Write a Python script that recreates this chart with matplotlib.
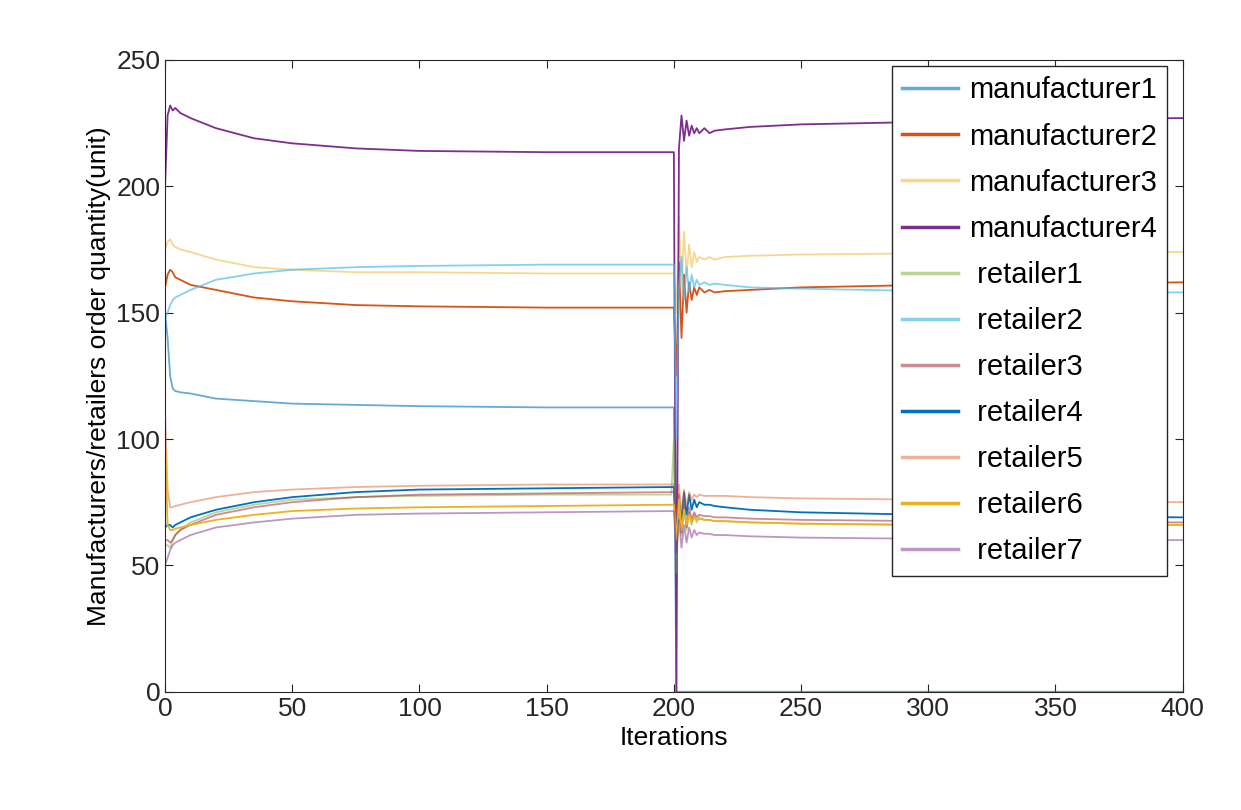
import numpy as np
import matplotlib.pyplot as plt

# iteration grid shared by all series
iters = [0, 1, 2, 3, 4, 6, 10, 20, 35, 50, 75, 100, 150, 199, 200,
         201, 202, 203, 204, 205, 206, 207, 208, 209, 210, 212, 214, 216,
         220, 230, 250, 300, 350, 400]

manufacturer1 = [150, 140, 125, 120, 119, 118.5, 118, 116, 115, 114, 113.5, 113, 112.5, 112.5, 112.5,
                 0, 0, 0, 0, 0, 0, 0, 0, 0, 0, 0, 0, 0,
                 0, 0, 0, 0, 0, 0]
manufacturer2 = [160, 165, 167, 166, 164, 163, 161, 159, 156, 154.5, 153, 152.5, 152, 152, 152,
                 125, 170, 140, 165, 150, 162, 155, 160, 157, 160, 158, 159, 158,
                 158.5, 159, 160, 161, 161.5, 162]
manufacturer3 = [175, 178, 179, 177, 176, 175, 174, 171, 168, 167, 166, 166, 165.5, 165.5, 165.5,
                 150, 188, 160, 182, 165, 177, 168, 174, 170, 172, 171, 172, 171,
                 172, 172.5, 173, 173.5, 174, 174]
manufacturer4 = [200, 228, 232, 230, 231, 229, 227, 223, 219, 217, 215, 214, 213.5, 213.5, 213.5,
                 0, 215, 228, 218, 226, 220, 224, 221, 223, 221, 223, 221, 222,
                 222.5, 223.5, 224.5, 225.5, 226.5, 227]
retailer1 = [58, 58, 57, 60, 62, 64, 67, 71, 74, 76, 77, 77.5, 78, 78, 100,
             47, 75, 62, 74, 64, 71, 66, 70, 67, 69, 68, 68, 67.5,
             67.5, 67, 66.5, 66, 66, 66]
retailer2 = [148, 150, 153, 155, 156, 157, 159, 163, 165.5, 167, 168, 168.5, 169, 169, 169,
             100, 160, 172, 155, 168, 158, 165, 160, 163, 161, 162, 161, 161.5,
             161, 160, 159.5, 158.5, 158, 158]
retailer3 = [60, 60, 59, 60, 62, 64, 66, 70, 73, 75, 77, 78, 78.5, 79, 79,
             60, 78, 63, 75, 65, 73, 68, 71, 69, 70, 69.5, 69.5, 69,
             69, 68.5, 68, 67.5, 67, 67]
retailer4 = [65, 66, 66, 65, 66, 67, 69, 72, 75, 77, 79, 80, 80.5, 81, 81,
             62, 75, 68, 79, 70, 78, 72, 76, 73, 75, 74, 74, 73.5,
             73, 72, 71, 70, 69.5, 69]
retailer5 = [110, 80, 73, 73, 73.5, 74, 75, 77, 79, 80, 81, 81.5, 82, 82, 82,
             65, 82, 70, 80, 73, 79, 76, 78, 77, 78, 77.5, 77.5, 77.5,
             77.5, 77, 76.5, 76, 75.5, 75]
retailer6 = [100, 66, 64, 64, 64.5, 65, 66, 68, 70, 71.5, 72.5, 73, 73.5, 74, 74,
             60, 76, 64, 72, 66, 70, 67, 69, 68, 68.5, 68, 68, 67.5,
             67.5, 67, 66.5, 66, 66, 66]
retailer7 = [50, 53, 56, 58, 59, 60, 62, 65, 67, 68.5, 70, 70.5, 71, 71.5, 71.5,
             55, 68, 57, 66, 59, 65, 61, 64, 62, 63, 62.5, 62.5, 62,
             62, 61.5, 61, 60.5, 60, 60]

names = ['manufacturer1', 'manufacturer2', 'manufacturer3', 'manufacturer4',
         ' retailer1', ' retailer2', ' retailer3', ' retailer4', ' retailer5',
         ' retailer6', ' retailer7']
series = [manufacturer1, manufacturer2, manufacturer3, manufacturer4,
          retailer1, retailer2, retailer3, retailer4, retailer5, retailer6, retailer7]
colors = ['#0072BD', '#D95319', '#EDB120', '#7E2F8E', '#77AC30', '#4DBEEE',
          '#A2142F', '#0072BD', '#D95319', '#EDB120', '#7E2F8E']
alphas = [0.6, 1, 0.5, 1, 0.5, 0.7, 0.5, 1, 0.45, 1, 0.5]

plt.rcParams['font.family'] = 'Liberation Sans'
fig = plt.figure(figsize=(12.41, 8.10), dpi=100)
ax = fig.add_axes([0.133, 0.146, 0.820, 0.780])

for y, name, c, a in zip(series, names, colors, alphas):
    ax.plot(iters, y, color=c, alpha=a, linewidth=1.3, label=name)

ax.set_xlim(0, 400)
ax.set_ylim(0, 250)
ax.set_xticks(np.arange(0, 401, 50))
ax.set_yticks(np.arange(0, 251, 50))
ax.tick_params(direction='in', labelsize=19, length=6, top=True, right=True, colors='#262626')
for s in ax.spines.values():
    s.set_color('#262626')
ax.set_xlabel('Iterations', fontsize=19)
ax.set_ylabel('Manufacturers/retailers order quantity(unit)', fontsize=19)

leg = ax.legend(loc='upper right', fontsize=21, fancybox=False, framealpha=1,
                edgecolor='#262626', handlelength=1.9, handletextpad=0.4,
                labelspacing=0.62, borderpad=0.35, borderaxespad=0.0,
                bbox_to_anchor=(0.985, 0.99))
for line in leg.get_lines():
    line.set_linewidth(2.5)

fig.savefig('out.png', dpi=100)
